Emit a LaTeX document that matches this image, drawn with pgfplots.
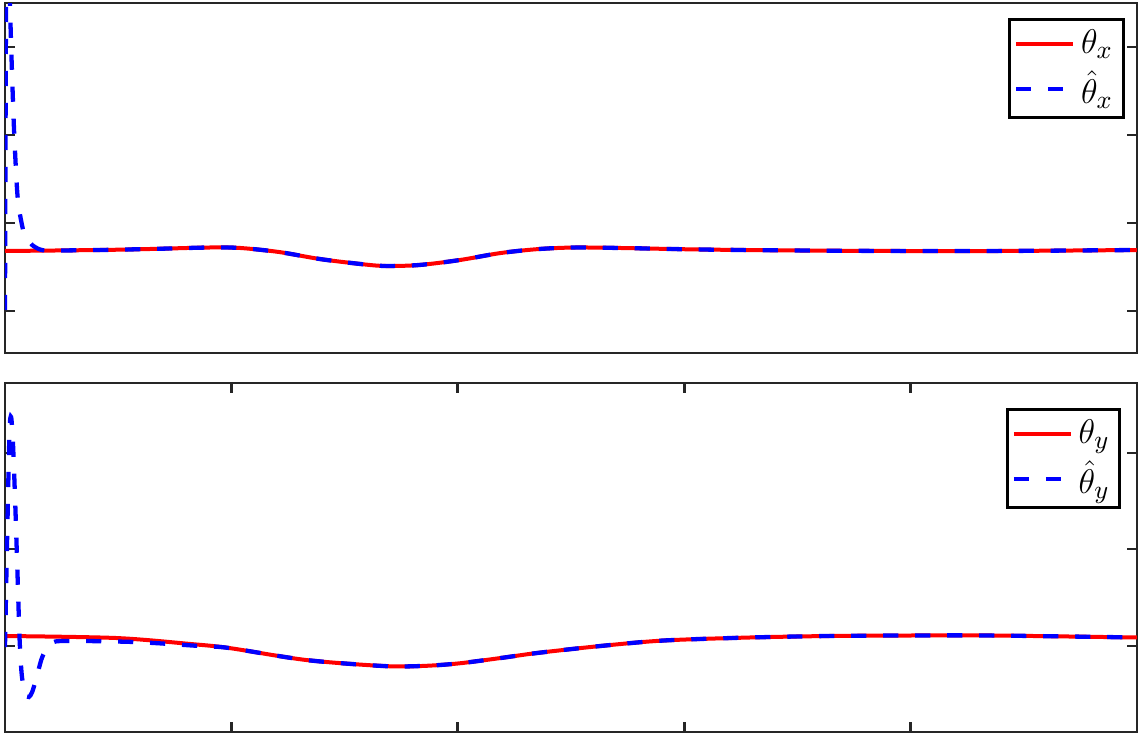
\documentclass[border=0pt]{standalone}
\usepackage{pgfplots}
\pgfplotsset{compat=1.18}
\definecolor{axgray}{RGB}{38,38,38}

% pixel-based units: 1px of the reference = 0.35pt
\pgfplotsset{
  panel/.style={
    scale only axis, width=396.2pt,
    xmin=0, xmax=5,
    axis line style={axgray, line width=1pt},
    every tick/.style={axgray, line width=1pt},
    major tick length=3.5pt,
    tick align=inside,
    xticklabels={}, yticklabels={},
    legend cell align=left,
    legend style={draw=black, line width=1pt, inner sep=1.5pt, row sep=0.5pt,
      font=\fontsize{12.5}{14}\selectfont},
    legend image code/.code={\draw[#1] (0cm,0cm) -- (0.7cm,0cm);},
  },
  truth/.style={red, line width=1.4pt, smooth},
  est/.style={blue, line width=1.5pt, dash pattern=on 5.3pt off 5.9pt, smooth},
}

\pgfplotstableread{
x y
0 102
0.42 103
0.64 104
0.905 105.5
1.04 105
1.21 101
1.39 94
1.57 89
1.68 87
1.83 88
2.01 93
2.19 100
2.36 104
2.52 105.5
2.72 105
3.07 103.5
3.51 102.5
3.95 102
4.39 102
5.0 103
}\thx

\pgfplotstableread{
x y
0 43
0.006 420
0.014 470
0.022 350
0.035 253
0.044 203
0.057 153
0.08 123
0.097 115
0.12 108
0.155 103.5
0.2 102.5
0.42 103
0.64 104
0.905 105.5
1.04 105
1.21 101
1.39 94
1.57 89
1.68 87
1.83 88
2.01 93
2.19 100
2.36 104
2.52 105.5
2.72 105
3.07 103.5
3.51 102.5
3.95 102
4.39 102
5.0 103
}\thxhat

\pgfplotstableread{
x y
0 96
0.49 94
0.82 88
0.99 84
1.33 72
1.67 66
1.84 66
2.0 68.5
2.19 74
2.35 79
2.63 86
2.91 91.5
3.29 94.5
3.64 96
4.0 96.5
4.36 96.5
5.0 94.5
}\thy

\pgfplotstableread{
x y
0 85
0.01 200
0.02 300
0.027 315
0.035 290
0.045 230
0.055 160
0.065 90
0.075 55
0.09 38
0.105 35
0.12 40
0.14 55
0.16 72
0.18 82
0.21 88
0.25 91
0.57 90
0.86 86
0.99 84
1.33 72
1.67 66
1.84 66
2.0 68.5
2.19 74
2.35 79
2.63 86
2.91 91.5
3.29 94.5
3.64 96
4.0 96.5
4.36 96.5
5.0 94.5
}\thyhat

\begin{document}
\begin{tikzpicture}
\useasboundingbox (0,0) rectangle (399.7pt,257.6pt);

\begin{axis}[panel, height=122.5pt, at={(1.75pt,134.05pt)}, anchor=south west,
  ymin=0, ymax=350, xtick=\empty, ytick={42,130,218,306},
  legend style={at={(0.989,0.957)}, anchor=north east}]
\addplot[truth] table {\thx};
\addlegendentry{$\theta_x$}
\addplot[est] table {\thxhat};
\addlegendentry{$\hat{\theta}_x$}
\end{axis}

\begin{axis}[panel, height=122.15pt, at={(1.75pt,1.4pt)}, anchor=south west,
  ymin=0, ymax=349, xtick={1,2,3,4}, ytick={86,183,279},
  legend style={at={(0.986,0.928)}, anchor=north east}]
\addplot[truth] table {\thy};
\addlegendentry{$\theta_y$}
\addplot[est] table {\thyhat};
\addlegendentry{$\hat{\theta}_y$}
\end{axis}
\end{tikzpicture}
\end{document}
